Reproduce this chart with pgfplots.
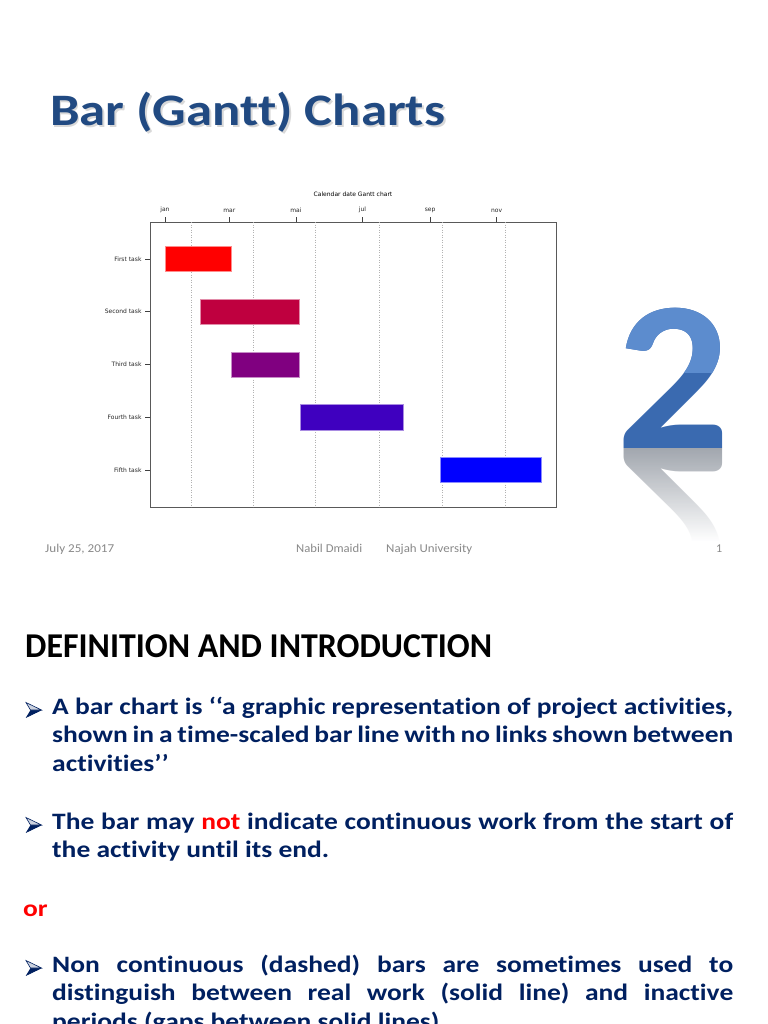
\documentclass[border=0pt]{standalone}
\usepackage{pgfplots}
\pgfplotsset{compat=1.18}
\usetikzlibrary{fadings}
\usepackage{graphicx}
\usepackage{fontspec}
\setmainfont{Carlito}[Ligatures={NoCommon}]
\newfontfamily\chartfont{DejaVu Sans}
\definecolor{navy}{RGB}{0,32,96}
\definecolor{titleblue}{RGB}{33,74,130}
\definecolor{footgray}{RGB}{137,137,137}
\definecolor{cA}{RGB}{255,0,0}
\definecolor{cB}{RGB}{191,0,63}
\definecolor{cC}{RGB}{128,0,128}
\definecolor{cD}{RGB}{63,0,191}
\definecolor{cE}{RGB}{0,0,255}
\definecolor{twoA}{RGB}{92,140,206}
\definecolor{twoB}{RGB}{58,106,176}
\definecolor{reflgray}{RGB}{110,118,130}
\tikzfading[name=reflfade, top color=transparent!65, bottom color=transparent!0]
\newcommand\bodyfont{\bfseries\fontsize{23.5bp}{28bp}\selectfont}
\newcommand\jline[1]{\scalebox{1.17}[1]{\makebox[582bp][s]{\bodyfont #1}}}
\newcommand\nline[1]{\scalebox{1.17}[1]{\bodyfont #1}}
\newcommand\chartsize{\chartfont\fontsize{6bp}{7bp}\selectfont}
\newcommand\arrowbul[2]{%
  \fill[navy] (#1+4.5,#2) -- (#1+15.5,#2) -- (#1,#2+7.5) -- cycle;
  \filldraw[fill=navy!20, draw=navy, line width=0.6bp, line join=miter] (#1,#2-7.5) -- (#1+15.5,#2) -- (#1+4.5,#2) -- cycle;
  \draw[navy, line width=0.6bp] (#1,#2+7.5) -- (#1+15.5,#2);
}
\begin{document}
\begin{tikzpicture}
\useasboundingbox (0,0) rectangle (768bp,-1024bp);
\fill[white] (0,0) rectangle (768bp,-1024bp);
\clip (0,0) rectangle (768bp,-1024bp);
\begin{axis}[
  at={(150bp,-507bp)}, anchor=south west,
  scale only axis, width=406bp, height=285bp,
  xmin=-13.7, xmax=358.4, ymin=0.3, ymax=5.7, y dir=reverse,
  axis line style={draw=black!65, line width=0.6bp},
  xtick={0,59,120,181,243,304},
  xticklabels={jan,mar,mai,jul,sep,nov},
  xtick pos=right, xticklabel pos=right,
  ytick={1,2,3,4,5},
  yticklabels={First task,Second task,Third task,Fourth task,Fifth task},
  ytick pos=left,
  tick align=outside, major tick length=5bp,
  tick style={black!75, line width=0.6bp},
  ticklabel style={font=\chartsize, text=black!85},
  xticklabel style={yshift=0.5bp},
  extra x ticks={24.1,80.7,138.1,196.4,254.5,312.3},
  extra x tick labels={},
  extra x tick style={grid=major, major tick length=0pt,
     major grid style={dash pattern=on 1bp off 1.5bp, black!30, line width=0.45bp}},
  title={Calendar date Gantt chart},
  title style={font=\chartsize, at={(0.5,1)}, anchor=base, yshift=19.5bp},
]
\addplot[fill=cA, draw=cA!45!white, line width=0.6bp] coordinates {(0,0.76) (60.5,0.76) (60.5,1.24) (0,1.24)} -- cycle;
\addplot[fill=cB, draw=cB!45!white, line width=0.6bp] coordinates {(32,1.76) (123.5,1.76) (123.5,2.24) (32,2.24)} -- cycle;
\addplot[fill=cC, draw=cC!45!white, line width=0.6bp] coordinates {(61,2.76) (123.5,2.76) (123.5,3.24) (61,3.24)} -- cycle;
\addplot[fill=cD, draw=cD!45!white, line width=0.6bp] coordinates {(124,3.76) (218,3.76) (218,4.24) (124,4.24)} -- cycle;
\addplot[fill=cE, draw=cE!45!white, line width=0.6bp] coordinates {(252,4.76) (345,4.76) (345,5.24) (252,5.24)} -- cycle;
\end{axis}
\begin{scope}[x=1bp,y=-1bp]
 % slide title
 \node[anchor=base west, inner sep=0, text=black!30, opacity=0.5] at (51.8,127.5)
   {\resizebox{395bp}{\height}{\bfseries\fontsize{45bp}{54bp}\selectfont Bar (Gantt) Charts}};
 \node[anchor=base west, inner sep=0, text=titleblue] at (50,125.7)
   {\resizebox{395bp}{\height}{\bfseries\fontsize{45bp}{54bp}\selectfont Bar (Gantt) Charts}};
 % big 2 and reflection
 \node[anchor=base, inner sep=0, text=reflgray] at (673,448)
   {\scalebox{1.05}[-1]{\bfseries\fontsize{214bp}{214bp}\selectfont 2}};
 \fill[white, path fading=reflfade] (600,447) rectangle (765,541);
 \fill[white] (600,540.5) rectangle (765,600);
 \node[anchor=base, inner sep=0, text=twoB] at (673,448)
   {\scalebox{1.05}[1]{\bfseries\fontsize{214bp}{214bp}\selectfont 2}};
 \begin{scope}
   \clip (600,290) rectangle (765,372);
   \node[anchor=base, inner sep=0, text=twoA] at (673,448)
     {\scalebox{1.05}[1]{\bfseries\fontsize{214bp}{214bp}\selectfont 2}};
 \end{scope}
 % footer
 \node[anchor=base west, inner sep=0, text=footgray] at (45,552.7)
   {\resizebox{69bp}{\height}{\fontsize{12bp}{14bp}\selectfont July 25, 2017}};
 \node[anchor=base west, inner sep=0, text=footgray] at (296,552.7)
   {\resizebox{66bp}{\height}{\fontsize{12bp}{14bp}\selectfont Nabil Dmaidi}};
 \node[anchor=base west, inner sep=0, text=footgray] at (386,552.7)
   {\resizebox{86bp}{\height}{\fontsize{12bp}{14bp}\selectfont Najah University}};
 \node[anchor=base west, inner sep=0, text=footgray] at (716,552.7)
   {\fontsize{12bp}{14bp}\selectfont 1};
 % second slide heading
 \node[anchor=base west, inner sep=0, text=black] at (25,657.7)
   {\resizebox{467bp}{\height}{\bfseries\fontsize{34.8bp}{40bp}\selectfont DEFINITION AND INTRODUCTION}};
 % bullet 1
 \arrowbul{26}{710}
 \node[anchor=base west, inner sep=0, text=navy] at (52,714) {\jline{A bar chart is ‘‘a graphic representation of project activities,}};
 \node[anchor=base west, inner sep=0, text=navy] at (52,742.5) {\jline{shown in a time-scaled bar line with no links shown between}};
 \node[anchor=base west, inner sep=0, text=navy] at (52,771) {\nline{activities’’}};
 % bullet 2
 \arrowbul{26}{825}
 \node[anchor=base west, inner sep=0, text=navy] at (52,829) {\jline{The bar may \textcolor{red}{not} indicate continuous work from the start of}};
 \node[anchor=base west, inner sep=0, text=navy] at (52,857.5) {\nline{the activity until its end.}};
 % or
 \node[anchor=base west, inner sep=0, text=red] at (23,916) {\nline{or}};
 % bullet 3
 \arrowbul{26}{968}
 \node[anchor=base west, inner sep=0, text=navy] at (52,972) {\jline{Non continuous (dashed) bars are sometimes used to}};
 \node[anchor=base west, inner sep=0, text=navy] at (52,1000.5) {\jline{distinguish between real work (solid line) and inactive}};
 \node[anchor=base west, inner sep=0, text=navy] at (52,1029) {\nline{periods (gaps between solid lines).}};
\end{scope}
\end{tikzpicture}
\end{document}
